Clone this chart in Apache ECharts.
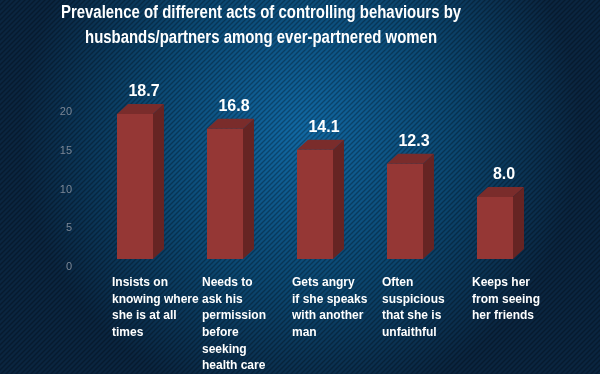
<!DOCTYPE html>
<html><head><meta charset="utf-8">
<script src="https://cdn.jsdelivr.net/npm/echarts@6/dist/echarts.min.js"></script>
<style>html,body{margin:0;padding:0;background:#0b2640;}#c{width:600px;height:374px;}</style>
</head><body><div id="c"></div>
<script>
const titleLines = ['Prevalence of different acts of controlling behaviours by', 'husbands/partners among ever-partnered women'];
const categories = [
  'Insists on\nknowing where\nshe is at all\ntimes',
  'Needs to\nask his\npermission\nbefore\nseeking\nhealth care',
  'Gets angry\nif she speaks\nwith another\nman',
  'Often\nsuspicious\nthat she is\nunfaithful',
  'Keeps her\nfrom seeing\nher friends'
];
const values = [18.7, 16.8, 14.1, 12.3, 8.0];
const yMin = 0, yMax = 20, yStep = 5;

const pat = document.createElement('canvas');
pat.width = 5; pat.height = 5;
const g = pat.getContext('2d');
g.strokeStyle = 'rgba(0,0,0,0.28)';
g.lineWidth = 1.4;
g.beginPath();
g.moveTo(-1, 6); g.lineTo(6, -1);
g.moveTo(-1, 1); g.lineTo(1, -1);
g.moveTo(4, 6); g.lineTo(6, 4);
g.stroke();

const chart = echarts.init(document.getElementById('c'));
chart.setOption({
  backgroundColor: {
    type: 'radial', x: 0.5, y: 0.35, r: 0.75,
    colorStops: [{offset: 0, color: '#1168a3'}, {offset: 0.55, color: '#0b4771'}, {offset: 1, color: '#0a2540'}]
  },
  graphic: [{
    type: 'rect', z: -1, silent: true,
    shape: {x: 0, y: 0, width: 600, height: 374},
    style: {fill: {image: pat, repeat: 'repeat'}}
  }, {
    type: 'text', silent: true, z: 5,
    x: 261, y: 25.5, scaleX: 0.83,
    style: {
      text: titleLines.join('\n'), fill: '#fff',
      font: 'bold 18px "Liberation Sans"', align: 'center', verticalAlign: 'middle', lineHeight: 25
    }
  }],
  grid: {left: 90, right: 60, top: 112, bottom: 107},
  xAxis: {
    type: 'category', data: categories,
    axisLine: {show: false}, axisTick: {show: false}, axisLabel: {show: false}, splitLine: {show: false}
  },
  yAxis: {
    type: 'value', min: yMin, max: yMax, interval: yStep,
    axisLine: {show: false}, axisTick: {show: false}, splitLine: {show: false},
    axisLabel: {color: '#7b8796', fontSize: 11, fontFamily: '"Liberation Sans"', margin: 18}
  },
  series: [{
    type: 'custom', clip: false,
    data: values.map((v, i) => [i, v]),
    encode: {x: 0, y: 1},
    renderItem(params, api) {
      const i = params.dataIndex;
      const v = api.value(1);
      const c = api.coord([i, v]);
      const c0 = api.coord([i, 0]);
      const w = 36, dx = 11, dy = 10, off = 8;
      const x0 = c[0] - w / 2, x1 = c[0] + w / 2, yt = c[1] - off, yb = c0[1] - off;
      return {type: 'group', children: [
        {type: 'rect', shape: {x: x0, y: yt, width: w, height: yb - yt}, style: {fill: '#953735'}},
        {type: 'polygon', shape: {points: [[x0, yt], [x1, yt], [x1 + dx, yt - dy], [x0 + dx, yt - dy]]}, style: {fill: '#7a2c2b'}},
        {type: 'polygon', shape: {points: [[x1, yt], [x1 + dx, yt - dy], [x1 + dx, yb - dy], [x1, yb]]}, style: {fill: '#662423'}},
        {type: 'text', x: c[0] + 9, y: yt - 22, style: {text: v.toFixed(1), fill: '#fff', font: 'bold 16px "Liberation Sans"', align: 'center', verticalAlign: 'middle'}},
        {type: 'text', x: c[0] - 23, y: 274.5, style: {text: categories[i], fill: '#fff', font: 'bold 12px "Liberation Sans"', align: 'left', verticalAlign: 'top', lineHeight: 16.6}}
      ]};
    }
  }]
});
</script>
</body></html>
